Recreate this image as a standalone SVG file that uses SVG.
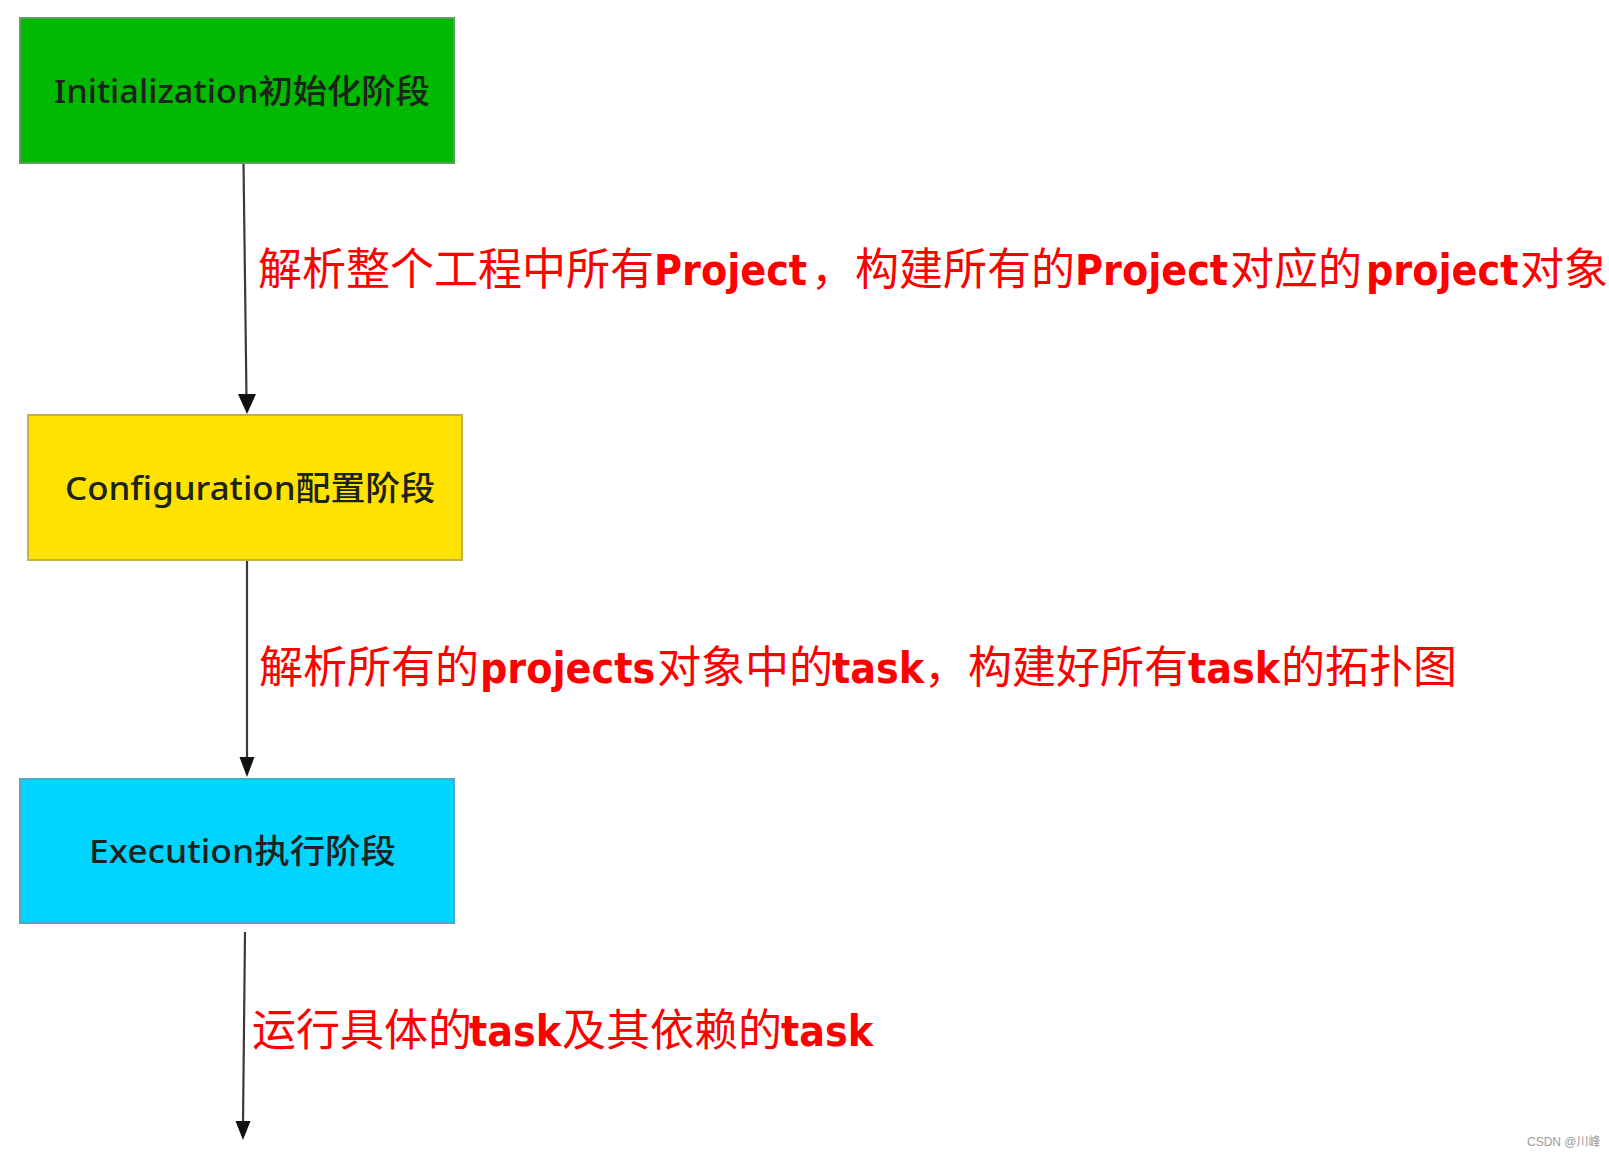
<svg xmlns="http://www.w3.org/2000/svg" width="1609" height="1157" viewBox="0 0 1609 1157">
<defs>
<style>
.box{stroke-width:2}
.ntext{font-family:"Noto Sans","Noto Sans CJK SC",sans-serif;font-size:33px;font-weight:500;fill:#1c221c}
.lbl{font-family:"Noto Sans CJK SC",sans-serif;font-size:44px;fill:#ff0000}
.b{font-family:"DejaVu Sans Condensed","DejaVu Sans",sans-serif;font-weight:bold;font-size:42.5px}
.conn{stroke:#3a3a3a;stroke-width:2.2;fill:none}
.head{fill:#111}
.wm{font-family:"Liberation Sans","Noto Sans CJK SC",sans-serif;font-size:12px;fill:#9a9a9a}
</style>
</defs>
<rect width="1609" height="1157" fill="#ffffff"/>
<g id="connectors">
<line class="conn" x1="243.5" y1="163" x2="246.5" y2="398"/>
<polygon class="head" points="238,394 256,394 247,414"/>
<line class="conn" x1="247" y1="560" x2="247" y2="760"/>
<polygon class="head" points="239.5,757 254.5,757 247,777"/>
<line class="conn" x1="245" y1="932" x2="243" y2="1125"/>
<polygon class="head" points="235.5,1121 250.5,1121 243,1140"/>
</g>
<g id="node-initialization">
<rect class="box" x="20" y="18" width="434" height="145" fill="#00b900" stroke="#5f9e5f"/>
<text class="ntext" x="54" y="103" textLength="376" lengthAdjust="spacingAndGlyphs">Initialization初始化阶段</text>
</g>
<g id="node-configuration">
<rect class="box" x="28" y="415" width="434" height="145" fill="#ffe300" stroke="#c4b04a"/>
<text class="ntext" x="65" y="500" textLength="370" lengthAdjust="spacingAndGlyphs">Configuration配置阶段</text>
</g>
<g id="node-execution">
<rect class="box" x="20" y="779" width="434" height="144" fill="#00d4ff" stroke="#55a6c4"/>
<text class="ntext" x="89" y="863" textLength="307" lengthAdjust="spacingAndGlyphs">Execution执行阶段</text>
</g>
<g id="label-1">
<text class="lbl" y="285"><tspan x="258">解析整个工程中所有</tspan><tspan class="b" x="654">Project</tspan><tspan x="811">，构建所有的</tspan><tspan class="b" x="1075">Project</tspan><tspan x="1230">对应的</tspan><tspan class="b" x="1366">project</tspan><tspan x="1520">对象</tspan></text>
</g>
<g id="label-2">
<text class="lbl" y="683"><tspan x="259">解析所有的</tspan><tspan class="b" x="480">projects</tspan><tspan x="657">对象中的</tspan><tspan class="b" x="832">task</tspan><tspan x="924">，构建好所有</tspan><tspan class="b" x="1188">task</tspan><tspan x="1281">的拓扑图</tspan></text>
</g>
<g id="label-3">
<text class="lbl" y="1046"><tspan x="252">运行具体的</tspan><tspan class="b" x="469">task</tspan><tspan x="562">及其依赖的</tspan><tspan class="b" x="781">task</tspan></text>
</g>
<text class="wm" x="1527" y="1146">CSDN @川峰</text>
</svg>
